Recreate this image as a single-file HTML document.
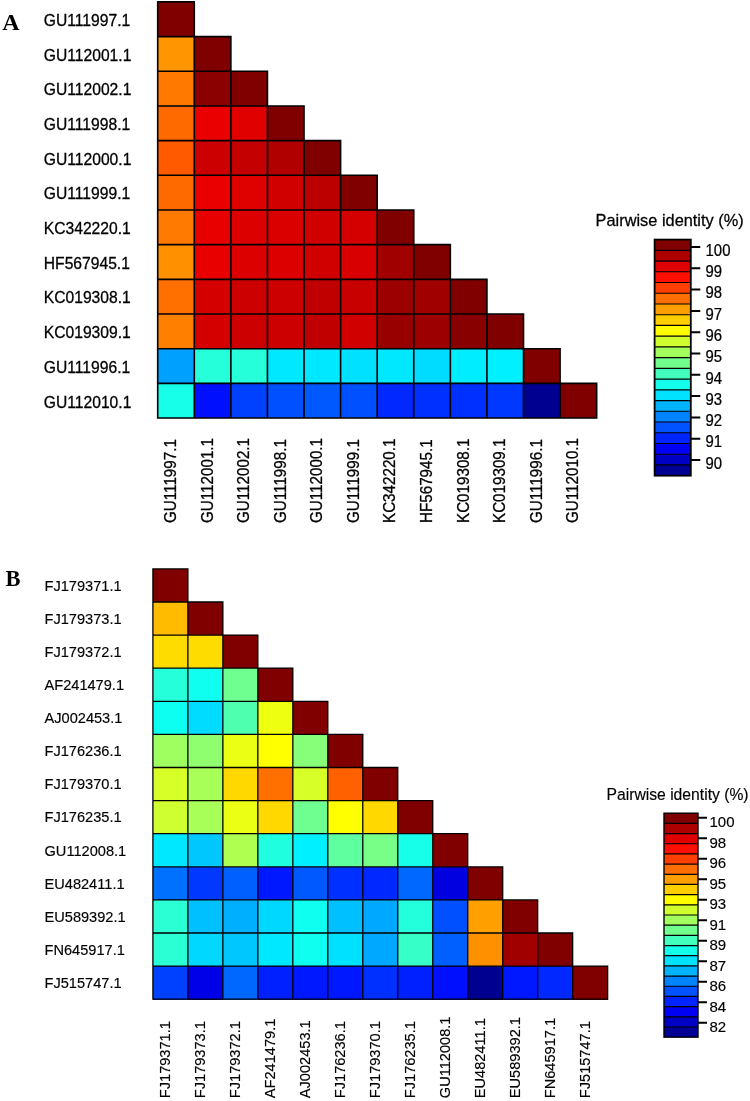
<!DOCTYPE html>
<html lang="en">
<head>
<meta charset="utf-8">
<title>Pairwise identity matrices</title>
<style>
html,body{margin:0;padding:0;background:#fff;}
body{width:750px;height:1101px;overflow:hidden;}
svg{display:block;}
svg text{font-family:"Liberation Sans",sans-serif;fill:#000;}
svg .pl text{font-family:"Liberation Serif",serif;font-weight:bold;fill:#000;}
</style>
</head>
<body>
<svg width="750" height="1101" viewBox="0 0 750 1101">
<rect width="750" height="1101" fill="#fff"/>
<g shape-rendering="crispEdges">
<rect x="157.7" y="1.9" width="36.88" height="34.98" fill="#800000"/>
<rect x="157.7" y="36.58" width="36.88" height="34.98" fill="#FF9500"/>
<rect x="194.28" y="36.58" width="36.88" height="34.98" fill="#800000"/>
<rect x="157.7" y="71.26" width="36.88" height="34.98" fill="#FF7800"/>
<rect x="194.28" y="71.26" width="36.88" height="34.98" fill="#8B0000"/>
<rect x="230.86" y="71.26" width="36.88" height="34.98" fill="#800000"/>
<rect x="157.7" y="105.94" width="36.88" height="34.98" fill="#FF6A00"/>
<rect x="194.28" y="105.94" width="36.88" height="34.98" fill="#EA0000"/>
<rect x="230.86" y="105.94" width="36.88" height="34.98" fill="#E00000"/>
<rect x="267.44" y="105.94" width="36.88" height="34.98" fill="#800000"/>
<rect x="157.7" y="140.62" width="36.88" height="34.98" fill="#FF5A00"/>
<rect x="194.28" y="140.62" width="36.88" height="34.98" fill="#CC0000"/>
<rect x="230.86" y="140.62" width="36.88" height="34.98" fill="#C40000"/>
<rect x="267.44" y="140.62" width="36.88" height="34.98" fill="#B00000"/>
<rect x="304.02" y="140.62" width="36.88" height="34.98" fill="#800000"/>
<rect x="157.7" y="175.3" width="36.88" height="34.98" fill="#FF6A00"/>
<rect x="194.28" y="175.3" width="36.88" height="34.98" fill="#EA0000"/>
<rect x="230.86" y="175.3" width="36.88" height="34.98" fill="#DF0000"/>
<rect x="267.44" y="175.3" width="36.88" height="34.98" fill="#D00000"/>
<rect x="304.02" y="175.3" width="36.88" height="34.98" fill="#BC0000"/>
<rect x="340.6" y="175.3" width="36.88" height="34.98" fill="#800000"/>
<rect x="157.7" y="209.98" width="36.88" height="34.98" fill="#FF7A00"/>
<rect x="194.28" y="209.98" width="36.88" height="34.98" fill="#E80000"/>
<rect x="230.86" y="209.98" width="36.88" height="34.98" fill="#DC0000"/>
<rect x="267.44" y="209.98" width="36.88" height="34.98" fill="#DA0000"/>
<rect x="304.02" y="209.98" width="36.88" height="34.98" fill="#D00000"/>
<rect x="340.6" y="209.98" width="36.88" height="34.98" fill="#D40000"/>
<rect x="377.18" y="209.98" width="36.88" height="34.98" fill="#800000"/>
<rect x="157.7" y="244.66" width="36.88" height="34.98" fill="#FF9000"/>
<rect x="194.28" y="244.66" width="36.88" height="34.98" fill="#E80000"/>
<rect x="230.86" y="244.66" width="36.88" height="34.98" fill="#DC0000"/>
<rect x="267.44" y="244.66" width="36.88" height="34.98" fill="#DC0000"/>
<rect x="304.02" y="244.66" width="36.88" height="34.98" fill="#D00000"/>
<rect x="340.6" y="244.66" width="36.88" height="34.98" fill="#D80000"/>
<rect x="377.18" y="244.66" width="36.88" height="34.98" fill="#A00000"/>
<rect x="413.76" y="244.66" width="36.88" height="34.98" fill="#800000"/>
<rect x="157.7" y="279.34" width="36.88" height="34.98" fill="#FF7000"/>
<rect x="194.28" y="279.34" width="36.88" height="34.98" fill="#D40000"/>
<rect x="230.86" y="279.34" width="36.88" height="34.98" fill="#CC0000"/>
<rect x="267.44" y="279.34" width="36.88" height="34.98" fill="#CC0000"/>
<rect x="304.02" y="279.34" width="36.88" height="34.98" fill="#C00000"/>
<rect x="340.6" y="279.34" width="36.88" height="34.98" fill="#C80000"/>
<rect x="377.18" y="279.34" width="36.88" height="34.98" fill="#9C0000"/>
<rect x="413.76" y="279.34" width="36.88" height="34.98" fill="#A00000"/>
<rect x="450.34" y="279.34" width="36.88" height="34.98" fill="#800000"/>
<rect x="157.7" y="314.02" width="36.88" height="34.98" fill="#FF8000"/>
<rect x="194.28" y="314.02" width="36.88" height="34.98" fill="#D40000"/>
<rect x="230.86" y="314.02" width="36.88" height="34.98" fill="#CC0000"/>
<rect x="267.44" y="314.02" width="36.88" height="34.98" fill="#CC0000"/>
<rect x="304.02" y="314.02" width="36.88" height="34.98" fill="#C00000"/>
<rect x="340.6" y="314.02" width="36.88" height="34.98" fill="#D00000"/>
<rect x="377.18" y="314.02" width="36.88" height="34.98" fill="#980000"/>
<rect x="413.76" y="314.02" width="36.88" height="34.98" fill="#9C0000"/>
<rect x="450.34" y="314.02" width="36.88" height="34.98" fill="#880000"/>
<rect x="486.92" y="314.02" width="36.88" height="34.98" fill="#800000"/>
<rect x="157.7" y="348.7" width="36.88" height="34.98" fill="#00A0FF"/>
<rect x="194.28" y="348.7" width="36.88" height="34.98" fill="#25FFDA"/>
<rect x="230.86" y="348.7" width="36.88" height="34.98" fill="#25FFDA"/>
<rect x="267.44" y="348.7" width="36.88" height="34.98" fill="#00E8FF"/>
<rect x="304.02" y="348.7" width="36.88" height="34.98" fill="#00E8FF"/>
<rect x="340.6" y="348.7" width="36.88" height="34.98" fill="#00E0FF"/>
<rect x="377.18" y="348.7" width="36.88" height="34.98" fill="#00E8FF"/>
<rect x="413.76" y="348.7" width="36.88" height="34.98" fill="#00DCFF"/>
<rect x="450.34" y="348.7" width="36.88" height="34.98" fill="#00ECFF"/>
<rect x="486.92" y="348.7" width="36.88" height="34.98" fill="#00F0FF"/>
<rect x="523.5" y="348.7" width="36.88" height="34.98" fill="#800000"/>
<rect x="157.7" y="383.38" width="36.88" height="34.98" fill="#17FFE8"/>
<rect x="194.28" y="383.38" width="36.88" height="34.98" fill="#0010FF"/>
<rect x="230.86" y="383.38" width="36.88" height="34.98" fill="#0040FF"/>
<rect x="267.44" y="383.38" width="36.88" height="34.98" fill="#0050FF"/>
<rect x="304.02" y="383.38" width="36.88" height="34.98" fill="#0058FF"/>
<rect x="340.6" y="383.38" width="36.88" height="34.98" fill="#0050FF"/>
<rect x="377.18" y="383.38" width="36.88" height="34.98" fill="#0028FF"/>
<rect x="413.76" y="383.38" width="36.88" height="34.98" fill="#0030FF"/>
<rect x="450.34" y="383.38" width="36.88" height="34.98" fill="#0030FF"/>
<rect x="486.92" y="383.38" width="36.88" height="34.98" fill="#0038FF"/>
<rect x="523.5" y="383.38" width="36.88" height="34.98" fill="#000090"/>
<rect x="560.08" y="383.38" width="36.88" height="34.98" fill="#800000"/>
</g>
<path d="M156.9 1.9H195.08M156.9 36.58H231.66M156.9 71.26H268.24M156.9 105.94H304.82M156.9 140.62H341.4M156.9 175.3H377.98M156.9 209.98H414.56M156.9 244.66H451.14M156.9 279.34H487.72M156.9 314.02H524.3M156.9 348.7H560.88M156.9 383.38H597.46M156.9 418.06H597.46M157.7 1.1V418.86M194.28 1.1V418.86M230.86 35.78V418.86M267.44 70.46V418.86M304.02 105.14V418.86M340.6 139.82V418.86M377.18 174.5V418.86M413.76 209.18V418.86M450.34 243.86V418.86M486.92 278.54V418.86M523.5 313.22V418.86M560.08 347.9V418.86M596.66 382.58V418.86" stroke="#000" stroke-width="1.6" fill="none"/>
<g font-size="16.3" stroke="#000" stroke-width="0.3">
<text transform="translate(43.8 20.14) scale(0.96 1)" dy="0.36em">GU111997.1</text>
<text transform="translate(43.8 54.82) scale(0.96 1)" dy="0.36em">GU112001.1</text>
<text transform="translate(43.8 89.5) scale(0.96 1)" dy="0.36em">GU112002.1</text>
<text transform="translate(43.8 124.18) scale(0.96 1)" dy="0.36em">GU111998.1</text>
<text transform="translate(43.8 158.86) scale(0.96 1)" dy="0.36em">GU112000.1</text>
<text transform="translate(43.8 193.54) scale(0.96 1)" dy="0.36em">GU111999.1</text>
<text transform="translate(43.8 228.22) scale(0.96 1)" dy="0.36em">KC342220.1</text>
<text transform="translate(43.8 262.9) scale(0.96 1)" dy="0.36em">HF567945.1</text>
<text transform="translate(43.8 297.58) scale(0.96 1)" dy="0.36em">KC019308.1</text>
<text transform="translate(43.8 332.26) scale(0.96 1)" dy="0.36em">KC019309.1</text>
<text transform="translate(43.8 366.94) scale(0.96 1)" dy="0.36em">GU111996.1</text>
<text transform="translate(43.8 401.62) scale(0.96 1)" dy="0.36em">GU112010.1</text>
</g>
<g font-size="16" stroke="#000" stroke-width="0.3">
<text transform="translate(175.99 523) rotate(-90) scale(0.95 1)">GU111997.1</text>
<text transform="translate(212.57 523) rotate(-90) scale(0.95 1)">GU112001.1</text>
<text transform="translate(249.15 523) rotate(-90) scale(0.95 1)">GU112002.1</text>
<text transform="translate(285.73 523) rotate(-90) scale(0.95 1)">GU111998.1</text>
<text transform="translate(322.31 523) rotate(-90) scale(0.95 1)">GU112000.1</text>
<text transform="translate(358.89 523) rotate(-90) scale(0.95 1)">GU111999.1</text>
<text transform="translate(395.47 523) rotate(-90) scale(0.95 1)">KC342220.1</text>
<text transform="translate(432.05 523) rotate(-90) scale(0.95 1)">HF567945.1</text>
<text transform="translate(468.63 523) rotate(-90) scale(0.95 1)">KC019308.1</text>
<text transform="translate(505.21 523) rotate(-90) scale(0.95 1)">KC019309.1</text>
<text transform="translate(541.79 523) rotate(-90) scale(0.95 1)">GU111996.1</text>
<text transform="translate(578.37 523) rotate(-90) scale(0.95 1)">GU112010.1</text>
</g>
<g shape-rendering="crispEdges">
<rect x="152.9" y="568.9" width="35.28" height="33.4" fill="#800000"/>
<rect x="152.9" y="602" width="35.28" height="33.4" fill="#FFBB00"/>
<rect x="187.88" y="602" width="35.28" height="33.4" fill="#800000"/>
<rect x="152.9" y="635.1" width="35.28" height="33.4" fill="#FFDC00"/>
<rect x="187.88" y="635.1" width="35.28" height="33.4" fill="#FFDC00"/>
<rect x="222.86" y="635.1" width="35.28" height="33.4" fill="#800000"/>
<rect x="152.9" y="668.2" width="35.28" height="33.4" fill="#25FFDA"/>
<rect x="187.88" y="668.2" width="35.28" height="33.4" fill="#0FFFF0"/>
<rect x="222.86" y="668.2" width="35.28" height="33.4" fill="#6FFF90"/>
<rect x="257.84" y="668.2" width="35.28" height="33.4" fill="#800000"/>
<rect x="152.9" y="701.3" width="35.28" height="33.4" fill="#0DFFF2"/>
<rect x="187.88" y="701.3" width="35.28" height="33.4" fill="#00DCFF"/>
<rect x="222.86" y="701.3" width="35.28" height="33.4" fill="#4FFFB0"/>
<rect x="257.84" y="701.3" width="35.28" height="33.4" fill="#EFFF10"/>
<rect x="292.82" y="701.3" width="35.28" height="33.4" fill="#800000"/>
<rect x="152.9" y="734.4" width="35.28" height="33.4" fill="#9FFF60"/>
<rect x="187.88" y="734.4" width="35.28" height="33.4" fill="#8FFF70"/>
<rect x="222.86" y="734.4" width="35.28" height="33.4" fill="#EBFF14"/>
<rect x="257.84" y="734.4" width="35.28" height="33.4" fill="#FFFF00"/>
<rect x="292.82" y="734.4" width="35.28" height="33.4" fill="#87FF78"/>
<rect x="327.8" y="734.4" width="35.28" height="33.4" fill="#800000"/>
<rect x="152.9" y="767.5" width="35.28" height="33.4" fill="#D7FF28"/>
<rect x="187.88" y="767.5" width="35.28" height="33.4" fill="#A7FF58"/>
<rect x="222.86" y="767.5" width="35.28" height="33.4" fill="#FFD800"/>
<rect x="257.84" y="767.5" width="35.28" height="33.4" fill="#FF7000"/>
<rect x="292.82" y="767.5" width="35.28" height="33.4" fill="#D7FF28"/>
<rect x="327.8" y="767.5" width="35.28" height="33.4" fill="#FF6000"/>
<rect x="362.78" y="767.5" width="35.28" height="33.4" fill="#800000"/>
<rect x="152.9" y="800.6" width="35.28" height="33.4" fill="#CFFF30"/>
<rect x="187.88" y="800.6" width="35.28" height="33.4" fill="#A7FF58"/>
<rect x="222.86" y="800.6" width="35.28" height="33.4" fill="#EBFF14"/>
<rect x="257.84" y="800.6" width="35.28" height="33.4" fill="#FFD800"/>
<rect x="292.82" y="800.6" width="35.28" height="33.4" fill="#6FFF90"/>
<rect x="327.8" y="800.6" width="35.28" height="33.4" fill="#FFFF00"/>
<rect x="362.78" y="800.6" width="35.28" height="33.4" fill="#FFD800"/>
<rect x="397.76" y="800.6" width="35.28" height="33.4" fill="#800000"/>
<rect x="152.9" y="833.7" width="35.28" height="33.4" fill="#00E8FF"/>
<rect x="187.88" y="833.7" width="35.28" height="33.4" fill="#00C8FF"/>
<rect x="222.86" y="833.7" width="35.28" height="33.4" fill="#AFFF50"/>
<rect x="257.84" y="833.7" width="35.28" height="33.4" fill="#1FFFE0"/>
<rect x="292.82" y="833.7" width="35.28" height="33.4" fill="#00F0FF"/>
<rect x="327.8" y="833.7" width="35.28" height="33.4" fill="#5FFFA0"/>
<rect x="362.78" y="833.7" width="35.28" height="33.4" fill="#77FF88"/>
<rect x="397.76" y="833.7" width="35.28" height="33.4" fill="#17FFE8"/>
<rect x="432.74" y="833.7" width="35.28" height="33.4" fill="#800000"/>
<rect x="152.9" y="866.8" width="35.28" height="33.4" fill="#0070FF"/>
<rect x="187.88" y="866.8" width="35.28" height="33.4" fill="#0038FF"/>
<rect x="222.86" y="866.8" width="35.28" height="33.4" fill="#0060FF"/>
<rect x="257.84" y="866.8" width="35.28" height="33.4" fill="#0018FF"/>
<rect x="292.82" y="866.8" width="35.28" height="33.4" fill="#0058FF"/>
<rect x="327.8" y="866.8" width="35.28" height="33.4" fill="#0030FF"/>
<rect x="362.78" y="866.8" width="35.28" height="33.4" fill="#0028FF"/>
<rect x="397.76" y="866.8" width="35.28" height="33.4" fill="#0068FF"/>
<rect x="432.74" y="866.8" width="35.28" height="33.4" fill="#0000E0"/>
<rect x="467.72" y="866.8" width="35.28" height="33.4" fill="#800000"/>
<rect x="152.9" y="899.9" width="35.28" height="33.4" fill="#2BFFD4"/>
<rect x="187.88" y="899.9" width="35.28" height="33.4" fill="#00C0FF"/>
<rect x="222.86" y="899.9" width="35.28" height="33.4" fill="#00B0FF"/>
<rect x="257.84" y="899.9" width="35.28" height="33.4" fill="#00D8FF"/>
<rect x="292.82" y="899.9" width="35.28" height="33.4" fill="#0FFFF0"/>
<rect x="327.8" y="899.9" width="35.28" height="33.4" fill="#00C0FF"/>
<rect x="362.78" y="899.9" width="35.28" height="33.4" fill="#00A8FF"/>
<rect x="397.76" y="899.9" width="35.28" height="33.4" fill="#23FFDC"/>
<rect x="432.74" y="899.9" width="35.28" height="33.4" fill="#0050FF"/>
<rect x="467.72" y="899.9" width="35.28" height="33.4" fill="#FFA000"/>
<rect x="502.7" y="899.9" width="35.28" height="33.4" fill="#800000"/>
<rect x="152.9" y="933" width="35.28" height="33.4" fill="#2BFFD4"/>
<rect x="187.88" y="933" width="35.28" height="33.4" fill="#00D8FF"/>
<rect x="222.86" y="933" width="35.28" height="33.4" fill="#00C8FF"/>
<rect x="257.84" y="933" width="35.28" height="33.4" fill="#00E8FF"/>
<rect x="292.82" y="933" width="35.28" height="33.4" fill="#0FFFF0"/>
<rect x="327.8" y="933" width="35.28" height="33.4" fill="#00E0FF"/>
<rect x="362.78" y="933" width="35.28" height="33.4" fill="#00A8FF"/>
<rect x="397.76" y="933" width="35.28" height="33.4" fill="#37FFC8"/>
<rect x="432.74" y="933" width="35.28" height="33.4" fill="#0060FF"/>
<rect x="467.72" y="933" width="35.28" height="33.4" fill="#FF9000"/>
<rect x="502.7" y="933" width="35.28" height="33.4" fill="#A00000"/>
<rect x="537.68" y="933" width="35.28" height="33.4" fill="#800000"/>
<rect x="152.9" y="966.1" width="35.28" height="33.4" fill="#0040FF"/>
<rect x="187.88" y="966.1" width="35.28" height="33.4" fill="#0000E8"/>
<rect x="222.86" y="966.1" width="35.28" height="33.4" fill="#0068FF"/>
<rect x="257.84" y="966.1" width="35.28" height="33.4" fill="#0020FF"/>
<rect x="292.82" y="966.1" width="35.28" height="33.4" fill="#0018FF"/>
<rect x="327.8" y="966.1" width="35.28" height="33.4" fill="#0018FF"/>
<rect x="362.78" y="966.1" width="35.28" height="33.4" fill="#0030FF"/>
<rect x="397.76" y="966.1" width="35.28" height="33.4" fill="#0020FF"/>
<rect x="432.74" y="966.1" width="35.28" height="33.4" fill="#0010FF"/>
<rect x="467.72" y="966.1" width="35.28" height="33.4" fill="#000090"/>
<rect x="502.7" y="966.1" width="35.28" height="33.4" fill="#0018FF"/>
<rect x="537.68" y="966.1" width="35.28" height="33.4" fill="#0028FF"/>
<rect x="572.66" y="966.1" width="35.28" height="33.4" fill="#800000"/>
</g>
<path d="M152.25 568.9H188.53M152.25 602H223.51M152.25 635.1H258.49M152.25 668.2H293.47M152.25 701.3H328.45M152.25 734.4H363.43M152.25 767.5H398.41M152.25 800.6H433.39M152.25 833.7H468.37M152.25 866.8H503.35M152.25 899.9H538.33M152.25 933H573.31M152.25 966.1H608.29M152.25 999.2H608.29M152.9 568.25V999.85M187.88 568.25V999.85M222.86 601.35V999.85M257.84 634.45V999.85M292.82 667.55V999.85M327.8 700.65V999.85M362.78 733.75V999.85M397.76 766.85V999.85M432.74 799.95V999.85M467.72 833.05V999.85M502.7 866.15V999.85M537.68 899.25V999.85M572.66 932.35V999.85M607.64 965.45V999.85" stroke="#000" stroke-width="1.3" fill="none"/>
<g font-size="14.6" stroke="#000" stroke-width="0.15">
<text transform="translate(44.5 585.45) scale(1 1)" dy="0.36em">FJ179371.1</text>
<text transform="translate(44.5 618.55) scale(1 1)" dy="0.36em">FJ179373.1</text>
<text transform="translate(44.5 651.65) scale(1 1)" dy="0.36em">FJ179372.1</text>
<text transform="translate(44.5 684.75) scale(1 1)" dy="0.36em">AF241479.1</text>
<text transform="translate(44.5 717.85) scale(1 1)" dy="0.36em">AJ002453.1</text>
<text transform="translate(44.5 750.95) scale(1 1)" dy="0.36em">FJ176236.1</text>
<text transform="translate(44.5 784.05) scale(1 1)" dy="0.36em">FJ179370.1</text>
<text transform="translate(44.5 817.15) scale(1 1)" dy="0.36em">FJ176235.1</text>
<text transform="translate(44.5 850.25) scale(1 1)" dy="0.36em">GU112008.1</text>
<text transform="translate(44.5 883.35) scale(1 1)" dy="0.36em">EU482411.1</text>
<text transform="translate(44.5 916.45) scale(1 1)" dy="0.36em">EU589392.1</text>
<text transform="translate(44.5 949.55) scale(1 1)" dy="0.36em">FN645917.1</text>
<text transform="translate(44.5 982.65) scale(1 1)" dy="0.36em">FJ515747.1</text>
</g>
<g font-size="14.6" stroke="#000" stroke-width="0.15">
<text transform="translate(169.89 1098.2) rotate(-90) scale(1 1)">FJ179371.1</text>
<text transform="translate(204.87 1098.2) rotate(-90) scale(1 1)">FJ179373.1</text>
<text transform="translate(239.85 1098.2) rotate(-90) scale(1 1)">FJ179372.1</text>
<text transform="translate(274.83 1098.2) rotate(-90) scale(1 1)">AF241479.1</text>
<text transform="translate(309.81 1098.2) rotate(-90) scale(1 1)">AJ002453.1</text>
<text transform="translate(344.79 1098.2) rotate(-90) scale(1 1)">FJ176236.1</text>
<text transform="translate(379.77 1098.2) rotate(-90) scale(1 1)">FJ179370.1</text>
<text transform="translate(414.75 1098.2) rotate(-90) scale(1 1)">FJ176235.1</text>
<text transform="translate(449.73 1098.2) rotate(-90) scale(1 1)">GU112008.1</text>
<text transform="translate(484.71 1098.2) rotate(-90) scale(1 1)">EU482411.1</text>
<text transform="translate(519.69 1098.2) rotate(-90) scale(1 1)">EU589392.1</text>
<text transform="translate(554.67 1098.2) rotate(-90) scale(1 1)">FN645917.1</text>
<text transform="translate(589.65 1098.2) rotate(-90) scale(1 1)">FJ515747.1</text>
</g>
<g shape-rendering="crispEdges">
<rect x="654.6" y="239.6" width="36.2" height="11.03" fill="#800000"/>
<rect x="654.6" y="250.33" width="36.2" height="11.03" fill="#AF0000"/>
<rect x="654.6" y="261.06" width="36.2" height="11.03" fill="#DF0000"/>
<rect x="654.6" y="271.79" width="36.2" height="11.03" fill="#FF0F00"/>
<rect x="654.6" y="282.52" width="36.2" height="11.03" fill="#FF3F00"/>
<rect x="654.6" y="293.25" width="36.2" height="11.03" fill="#FF6E00"/>
<rect x="654.6" y="303.98" width="36.2" height="11.03" fill="#FF9E00"/>
<rect x="654.6" y="314.71" width="36.2" height="11.03" fill="#FFCE00"/>
<rect x="654.6" y="325.44" width="36.2" height="11.03" fill="#FFFD00"/>
<rect x="654.6" y="336.17" width="36.2" height="11.03" fill="#D1FF2E"/>
<rect x="654.6" y="346.9" width="36.2" height="11.03" fill="#A2FF5D"/>
<rect x="654.6" y="357.63" width="36.2" height="11.03" fill="#72FF8D"/>
<rect x="654.6" y="368.36" width="36.2" height="11.03" fill="#42FFBD"/>
<rect x="654.6" y="379.09" width="36.2" height="11.03" fill="#13FFEC"/>
<rect x="654.6" y="389.82" width="36.2" height="11.03" fill="#00E2FF"/>
<rect x="654.6" y="400.55" width="36.2" height="11.03" fill="#00B3FF"/>
<rect x="654.6" y="411.28" width="36.2" height="11.03" fill="#0083FF"/>
<rect x="654.6" y="422.01" width="36.2" height="11.03" fill="#0053FF"/>
<rect x="654.6" y="432.74" width="36.2" height="11.03" fill="#0024FF"/>
<rect x="654.6" y="443.47" width="36.2" height="11.03" fill="#0000F3"/>
<rect x="654.6" y="454.2" width="36.2" height="11.03" fill="#0000C4"/>
<rect x="654.6" y="464.93" width="36.2" height="11.03" fill="#000094"/>
</g>
<path d="M654.6 250.33H690.8M654.6 261.06H690.8M654.6 271.79H690.8M654.6 282.52H690.8M654.6 293.25H690.8M654.6 303.98H690.8M654.6 314.71H690.8M654.6 325.44H690.8M654.6 336.17H690.8M654.6 346.9H690.8M654.6 357.63H690.8M654.6 368.36H690.8M654.6 379.09H690.8M654.6 389.82H690.8M654.6 400.55H690.8M654.6 411.28H690.8M654.6 422.01H690.8M654.6 432.74H690.8M654.6 443.47H690.8M654.6 454.2H690.8M654.6 464.93H690.8" stroke="#000" stroke-width="1.15" fill="none"/>
<rect x="654.6" y="239.6" width="36.2" height="236.06" stroke="#000" stroke-width="1.8" fill="none"/>
<path d="M690.8 247h9.5M690.8 268.3h9.5M690.8 289.6h9.5M690.8 310.9h9.5M690.8 332.2h9.5M690.8 353.5h9.5M690.8 374.8h9.5M690.8 396.1h9.5M690.8 417.4h9.5M690.8 438.7h9.5M690.8 460h9.5" stroke="#000" stroke-width="2" fill="none"/>
<g font-size="16" stroke="#000" stroke-width="0.25">
<text transform="translate(705.6 250) scale(0.93 1)" dy="0.36em">100</text>
<text transform="translate(705.6 271.3) scale(0.93 1)" dy="0.36em">99</text>
<text transform="translate(705.6 292.6) scale(0.93 1)" dy="0.36em">98</text>
<text transform="translate(705.6 313.9) scale(0.93 1)" dy="0.36em">97</text>
<text transform="translate(705.6 335.2) scale(0.93 1)" dy="0.36em">96</text>
<text transform="translate(705.6 356.5) scale(0.93 1)" dy="0.36em">95</text>
<text transform="translate(705.6 377.8) scale(0.93 1)" dy="0.36em">94</text>
<text transform="translate(705.6 399.1) scale(0.93 1)" dy="0.36em">93</text>
<text transform="translate(705.6 420.4) scale(0.93 1)" dy="0.36em">92</text>
<text transform="translate(705.6 441.7) scale(0.93 1)" dy="0.36em">91</text>
<text transform="translate(705.6 463) scale(0.93 1)" dy="0.36em">90</text>
</g>
<text transform="translate(595.6 226) scale(1.01 1)" font-size="16.2" stroke="#000" stroke-width="0.25">Pairwise identity (%)</text>
<g shape-rendering="crispEdges">
<rect x="664" y="813.2" width="34" height="10.48" fill="#800000"/>
<rect x="664" y="823.38" width="34" height="10.48" fill="#AF0000"/>
<rect x="664" y="833.56" width="34" height="10.48" fill="#DF0000"/>
<rect x="664" y="843.74" width="34" height="10.48" fill="#FF0F00"/>
<rect x="664" y="853.92" width="34" height="10.48" fill="#FF3F00"/>
<rect x="664" y="864.1" width="34" height="10.48" fill="#FF6E00"/>
<rect x="664" y="874.28" width="34" height="10.48" fill="#FF9E00"/>
<rect x="664" y="884.46" width="34" height="10.48" fill="#FFCE00"/>
<rect x="664" y="894.64" width="34" height="10.48" fill="#FFFD00"/>
<rect x="664" y="904.82" width="34" height="10.48" fill="#D1FF2E"/>
<rect x="664" y="915" width="34" height="10.48" fill="#A2FF5D"/>
<rect x="664" y="925.18" width="34" height="10.48" fill="#72FF8D"/>
<rect x="664" y="935.36" width="34" height="10.48" fill="#42FFBD"/>
<rect x="664" y="945.54" width="34" height="10.48" fill="#13FFEC"/>
<rect x="664" y="955.72" width="34" height="10.48" fill="#00E2FF"/>
<rect x="664" y="965.9" width="34" height="10.48" fill="#00B3FF"/>
<rect x="664" y="976.08" width="34" height="10.48" fill="#0083FF"/>
<rect x="664" y="986.26" width="34" height="10.48" fill="#0053FF"/>
<rect x="664" y="996.44" width="34" height="10.48" fill="#0024FF"/>
<rect x="664" y="1006.62" width="34" height="10.48" fill="#0000F3"/>
<rect x="664" y="1016.8" width="34" height="10.48" fill="#0000C4"/>
<rect x="664" y="1026.98" width="34" height="10.48" fill="#000094"/>
</g>
<path d="M664 823.38H698M664 833.56H698M664 843.74H698M664 853.92H698M664 864.1H698M664 874.28H698M664 884.46H698M664 894.64H698M664 904.82H698M664 915H698M664 925.18H698M664 935.36H698M664 945.54H698M664 955.72H698M664 965.9H698M664 976.08H698M664 986.26H698M664 996.44H698M664 1006.62H698M664 1016.8H698M664 1026.98H698" stroke="#000" stroke-width="1.2" fill="none"/>
<rect x="664" y="813.2" width="34" height="223.96" stroke="#000" stroke-width="1.4" fill="none"/>
<path d="M698 817.8h9M698 838.3h9M698 858.8h9M698 879.3h9M698 899.8h9M698 920.3h9M698 940.8h9M698 961.3h9M698 981.8h9M698 1002.3h9M698 1022.8h9" stroke="#000" stroke-width="1.9" fill="none"/>
<g font-size="15" stroke="#000" stroke-width="0.15">
<text transform="translate(709.5 822) scale(1 1)" dy="0.36em">100</text>
<text transform="translate(709.5 842.5) scale(1 1)" dy="0.36em">98</text>
<text transform="translate(709.5 863) scale(1 1)" dy="0.36em">96</text>
<text transform="translate(709.5 883.5) scale(1 1)" dy="0.36em">95</text>
<text transform="translate(709.5 904) scale(1 1)" dy="0.36em">93</text>
<text transform="translate(709.5 924.5) scale(1 1)" dy="0.36em">91</text>
<text transform="translate(709.5 945) scale(1 1)" dy="0.36em">89</text>
<text transform="translate(709.5 965.5) scale(1 1)" dy="0.36em">87</text>
<text transform="translate(709.5 986) scale(1 1)" dy="0.36em">86</text>
<text transform="translate(709.5 1006.5) scale(1 1)" dy="0.36em">84</text>
<text transform="translate(709.5 1027) scale(1 1)" dy="0.36em">82</text>
</g>
<text transform="translate(606.5 799.6) scale(1 1)" font-size="15.7" stroke="#000" stroke-width="0.15">Pairwise identity (%)</text>
<g class="pl"><text x="2.2" y="30" font-size="24">A</text><text x="5.5" y="586" font-size="22.5">B</text></g>
</svg>
</body>
</html>
